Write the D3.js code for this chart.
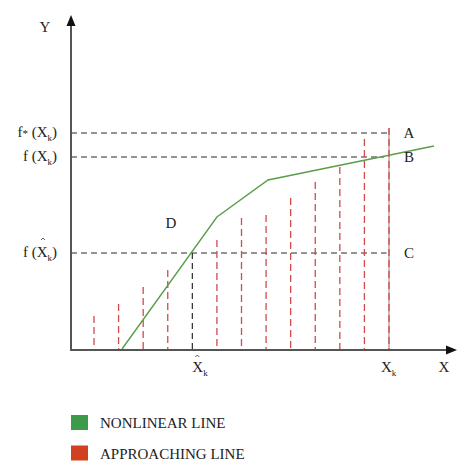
<!DOCTYPE html>
<html>
<head>
<meta charset="utf-8">
<script src="https://cdn.jsdelivr.net/npm/d3@7/dist/d3.min.js"></script>
<style>
  html, body { margin: 0; padding: 0; background: #fff; }
  svg { display: block; }
  text { font-family: "Liberation Serif", "DejaVu Serif", serif; fill: #222; }
</style>
</head>
<body>
<svg id="chart" width="474" height="474"></svg>
<script>
// ---- data ----
const approachX = [1, 2, 3, 4, 6, 7, 8, 9, 10, 11, 12, 13];
const approachY = [34, 46, 63, 80, 110, 132, 135, 152, 168, 183, 211, 222];
const xHat = 5;
const xK = 13;
const nonlinearX = [2.14, 6.0, 8.08, 14.83];
const nonlinearY = [1, 133, 170, 204];
const levelNames = ["fStar", "fXk", "fXhat"];
const levelValues = [217, 193, 97];
const levelEnds = [13, 12.8, 12.9];
const pointLabels = ["A", "B", "C"];
const legendLabels = ["NONLINEAR LINE", "APPROACHING LINE"];
const legendColors = ["#3d9a47", "#d2401f"];

// ---- layout ----
const svg = d3.select("#chart");
const originX = 71, originY = 350;
const x = d3.scaleLinear().domain([1, 13]).range([94, 389]);
const y = d3.scaleLinear().domain([0, 335]).range([originY, 15]);

const red = "#d24a4a";
const dark = "#2a2a2a";

// horizontal dashed level lines
levelValues.forEach((v, i) => {
  svg.append("line")
    .attr("x1", originX).attr("x2", x(levelEnds[i]))
    .attr("y1", y(v)).attr("y2", y(v))
    .attr("stroke", dark).attr("stroke-width", 1.2)
    .attr("stroke-dasharray", "6,4");
});

// black dashed vertical at X hat
svg.append("line")
  .attr("x1", x(xHat)).attr("x2", x(xHat))
  .attr("y1", y(levelValues[2])).attr("y2", originY)
  .attr("stroke", dark).attr("stroke-width", 1.2)
  .attr("stroke-dasharray", "6,4");

// solid under-line for Xk
svg.append("line")
  .attr("x1", x(xK)).attr("x2", x(xK))
  .attr("y1", y(approachY[approachY.length - 1])).attr("y2", originY)
  .attr("stroke", "#8a6a6a").attr("stroke-width", 0.9);

// red approaching lines
svg.selectAll("line.appr").data(approachX).enter().append("line")
  .attr("class", "appr")
  .attr("x1", d => x(d)).attr("x2", d => x(d))
  .attr("y1", (d, i) => y(approachY[i])).attr("y2", originY)
  .attr("stroke", red).attr("stroke-width", 1.3)
  .attr("stroke-dasharray", "7,4");

// green nonlinear line
const pts = nonlinearX.map((d, i) => [d, nonlinearY[i]]);
svg.append("path")
  .attr("d", d3.line().x(d => x(d[0])).y(d => y(d[1]))(pts))
  .attr("fill", "none").attr("stroke", "#5a9e4c").attr("stroke-width", 1.4);

// axes
svg.append("line").attr("x1", originX).attr("x2", originX)
  .attr("y1", originY + 1).attr("y2", 22)
  .attr("stroke", "#555").attr("stroke-width", 2);
svg.append("line").attr("x1", originX - 1).attr("x2", 450)
  .attr("y1", originY).attr("y2", originY)
  .attr("stroke", "#555").attr("stroke-width", 2);
svg.append("path").attr("d", `M${originX},15 L${originX - 4.5},26 L${originX + 4.5},26 Z`).attr("fill", "#111");
svg.append("path").attr("d", `M457,${originY} L446,${originY - 4.5} L446,${originY + 4.5} Z`).attr("fill", "#111");

// text helpers
const fs = 15;
function subLabel(xp, yp, pre, post, anchor, star) {
  const t = svg.append("text").attr("x", xp).attr("y", yp)
    .attr("font-size", fs).attr("text-anchor", anchor || "start");
  if (star) {
    t.append("tspan").text("f");
    t.append("tspan").text("*").attr("font-size", 11);
    t.append("tspan").text(" (X");
  } else {
    t.append("tspan").text(pre);
  }
  t.append("tspan").text("k").attr("font-size", 9).attr("dy", 4);
  t.append("tspan").text(post).attr("dy", -4);
  return t;
}
function hat(cx, cy) {
  svg.append("path")
    .attr("d", `M${cx - 2},${cy + 2} L${cx},${cy} L${cx + 2},${cy + 2}`)
    .attr("fill", "none").attr("stroke", "#333").attr("stroke-width", 0.8);
}

svg.append("text").attr("x", 45).attr("y", 32).attr("font-size", fs)
  .attr("text-anchor", "middle").text("Y");

subLabel(57, y(levelValues[0]) + 4, "", ")", "end", true);
subLabel(57, y(levelValues[1]) + 4, "f (X", ")", "end");
subLabel(57, y(levelValues[2]) + 4, "f (X", ")", "end");
hat(43, y(levelValues[2]) - 15);

pointLabels.forEach((lab, i) => {
  svg.append("text").attr("x", 409).attr("y", y(levelValues[i]) + 5)
    .attr("font-size", fs).attr("text-anchor", "middle").text(lab);
});
svg.append("text").attr("x", 171).attr("y", 228).attr("font-size", fs)
  .attr("text-anchor", "middle").text("D");

subLabel(x(xHat), 372, "X", "", "start");
hat(x(xHat) + 5, 355);
subLabel(x(xK) - 8, 372, "X", "", "start");
svg.append("text").attr("x", 444).attr("y", 372).attr("font-size", fs)
  .attr("text-anchor", "middle").text("X");

// legend
legendLabels.forEach((lab, i) => {
  const ly = 415 + i * 30.5;
  svg.append("rect").attr("x", 71).attr("y", ly).attr("width", 17).attr("height", 15)
    .attr("fill", legendColors[i]);
  svg.append("text").attr("x", 100).attr("y", ly + 13).attr("font-size", fs)
    .attr("fill", "#333").text(lab);
});
</script>
</body>
</html>
